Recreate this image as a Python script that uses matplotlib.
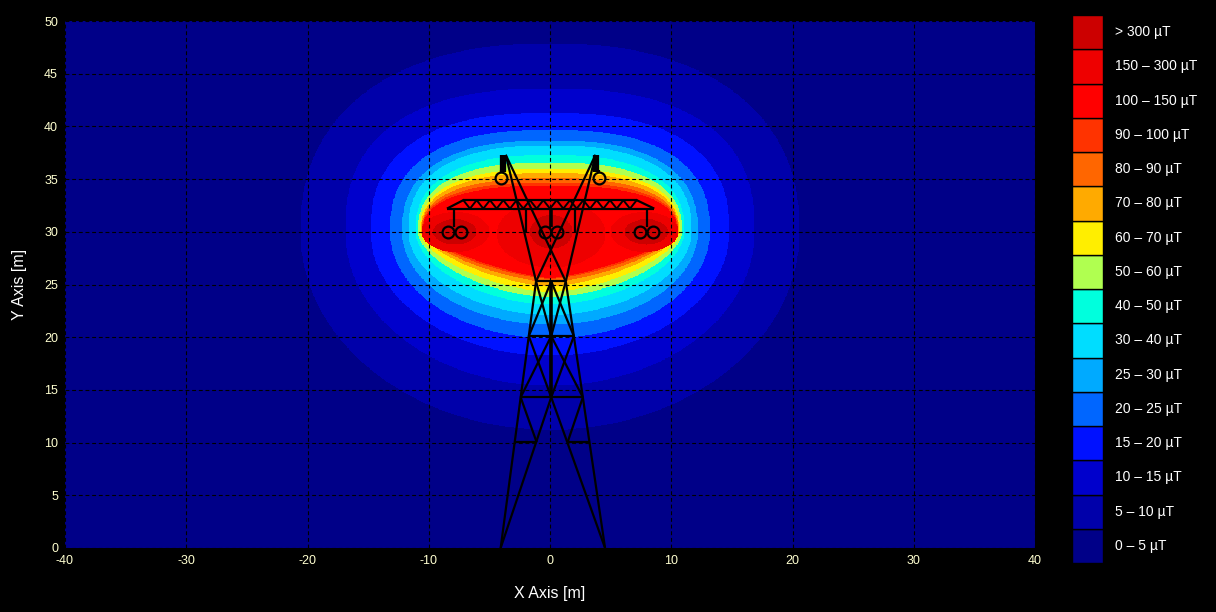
import numpy as np
import matplotlib
matplotlib.use("Agg")
import matplotlib.pyplot as plt
from matplotlib.colors import ListedColormap

plt.rcParams["axes.unicode_minus"] = False

# ---------------- data ----------------
band_lower = [0, 5, 10, 15, 20, 25, 30, 40, 50, 60, 70, 80, 90, 100, 150, 300]
band_labels = ["0 – 5 µT", "5 – 10 µT", "10 – 15 µT", "15 – 20 µT", "20 – 25 µT",
               "25 – 30 µT", "30 – 40 µT", "40 – 50 µT", "50 – 60 µT", "60 – 70 µT",
               "70 – 80 µT", "80 – 90 µT", "90 – 100 µT", "100 – 150 µT",
               "150 – 300 µT", "> 300 µT"]
band_colors = ["#000088", "#0000aa", "#0000cc", "#0011ff", "#0066ff", "#00aaff",
               "#00ddff", "#00ffdd", "#b0ff50", "#ffee00", "#ffaa00", "#ff6600",
               "#ff3300", "#ff0000", "#ee0000", "#cc0000"]

# iso-contours of the field (level in µT):
# half width along y=30, reach above / below y=30 and edge roundness
contour_level = [5, 10, 15, 20, 25, 30, 40, 50, 60, 70, 80, 90, 100]
contour_halfwidth = [20.6, 16.9, 14.8, 13.2, 12.2, 11.7, 11.1, 10.9, 10.75, 10.65, 10.6, 10.55, 10.5]
contour_up = [17.9, 13.6, 11.3, 9.7, 8.7, 8.2, 7.3, 6.6, 6.0, 5.6, 5.1, 4.7, 4.4]
contour_down = [18.8, 14.6, 11.75, 10.1, 8.8, 7.9, 6.9, 6.2, 5.7, 5.2, 4.8, 4.5, 4.4]
contour_round_up = [2.3, 2.5, 2.5, 2.5, 2.5, 2.5, 2.5, 2.5, 2.5, 2.5, 2.5, 2.5, 2.5]
contour_round_down = [2.0, 2.0, 2.0, 2.0, 2.0, 1.9, 1.8, 1.7, 1.6, 1.5, 1.45, 1.4, 1.35]
contour_centre_y = 30.0

# strong-field spots around the conductor bundles
spot_level = [150, 150, 150, 300, 300, 300]
spot_x = [-7.8, 0.1, 7.8, -7.85, 0.1, 7.95]
spot_y = [30.0, 29.8, 30.0, 30.0, 30.0, 30.0]
spot_rx = [2.8, 4.5, 2.8, 1.8, 1.75, 1.8]
spot_ry = [1.9, 3.2, 1.9, 1.2, 1.6, 1.2]

# conductors
phase_x = [-8.4, -7.34, -0.41, 0.58, 7.42, 8.49]
phase_y = [30.0, 30.0, 30.0, 30.0, 30.0, 30.0]
earth_x = [-4.07, 4.04]
earth_y = [35.1, 35.1]

x_ticks = [-40, -30, -20, -10, 0, 10, 20, 30, 40]
y_ticks = [0, 5, 10, 15, 20, 25, 30, 35, 40, 45, 50]

# tower members (x0, y0, x1, y1)
tower_members = [
    (-4.07, 0.0, -1.15, 25.3), (4.54, 0.0, 1.3, 25.3),
    (-1.15, 25.3, 1.3, 25.3), (-1.75, 20.1, 1.97, 20.1), (-2.42, 14.3, 2.71, 14.3),
    (-2.91, 10.03, -1.1, 10.03), (1.45, 10.03, 3.26, 10.03),
    (-4.07, 0.0, 0.1, 14.3), (4.54, 0.0, 0.1, 14.3),
    (-2.42, 14.3, -1.1, 10.03), (2.71, 14.3, 1.45, 10.03),
    (-1.75, 20.1, 0.1, 14.3), (-2.42, 14.3, 0.1, 20.1),
    (1.97, 20.1, 0.1, 14.3), (2.71, 14.3, 0.1, 20.1),
    (-1.15, 25.3, 0.1, 20.1), (-1.75, 20.1, 0.1, 25.3),
    (1.3, 25.3, 0.1, 20.1), (1.97, 20.1, 0.1, 25.3),
    (-3.65, 37.3, -1.15, 25.3), (-3.65, 37.3, 1.3, 25.3),
    (3.75, 37.3, 1.3, 25.3), (3.75, 37.3, -1.15, 25.3),
    (-7.15, 33.0, 7.15, 33.0), (-8.5, 32.2, 8.6, 32.2),
    (-7.15, 33.0, -8.5, 32.2), (7.15, 33.0, 8.6, 32.2),
    (-2.0, 32.2, -2.0, 29.9), (2.06, 32.2, 2.06, 29.9),
    (-7.9, 32.2, -7.9, 30.5), (8.0, 32.2, 8.0, 30.5),
    (-4.07, 35.6, -4.07, 35.9), (4.04, 35.6, 4.04, 35.9),
]
tower_thick = [(0.1, 14.3, 0.1, 25.3), (0.08, 32.2, 0.08, 30.5)]
peak_blocks = [(-3.9, 35.7, -3.9, 37.3), (3.8, 35.7, 3.8, 37.3)]
truss_x = [-7.15, -6.6, -6.05, -5.5, -4.95, -4.4, -3.85, -3.3, -2.75, -2.2, -1.65, -1.1,
           -0.55, 0.0, 0.55, 1.1, 1.65, 2.2, 2.75, 3.3, 3.85, 4.4, 4.95, 5.5, 6.05, 6.6, 7.15]

# ---------------- figure ----------------
W, H = 1216, 612
fig = plt.figure(figsize=(W / 100, H / 100), dpi=100, facecolor="black")
ax = fig.add_axes([65 / W, (H - 548) / H, 970 / W, 527 / H])
ax.set_facecolor(band_colors[0])

xs = np.linspace(-40, 40, 1601)
ys = np.linspace(0, 50, 1001)
X, Y = np.meshgrid(xs, ys)
band = np.zeros(X.shape, dtype=int)
for lev, a, bu, bd, nu, nd in zip(contour_level, contour_halfwidth, contour_up,
                                   contour_down, contour_round_up, contour_round_down):
    above = Y >= contour_centre_y
    b = np.where(above, bu, bd)
    n = np.where(above, nu, nd)
    g = np.abs(X / a) ** n + np.abs((Y - contour_centre_y) / b) ** n
    band[g <= 1.0] = band_lower.index(lev)
for lev, cx, cy, rx, ry in zip(spot_level, spot_x, spot_y, spot_rx, spot_ry):
    g = ((X - cx) / rx) ** 2 + ((Y - cy) / ry) ** 2
    band[g <= 1.0] = band_lower.index(lev)

ax.imshow(band, extent=[-40, 40, 0, 50], origin="lower", aspect="auto",
          cmap=ListedColormap(band_colors), vmin=-0.5, vmax=len(band_colors) - 0.5,
          interpolation="nearest", zorder=0)

ax.set_xlim(-40, 40)
ax.set_ylim(0, 50)
ax.set_xticks(x_ticks)
ax.set_yticks(y_ticks)
ax.grid(True, color="black", linestyle=(0, (3.5, 2.5)), linewidth=0.8)
for s in ax.spines.values():
    s.set_visible(False)
ax.tick_params(length=0, colors="#ffffd0", labelsize=9, pad=5)
for lab in ax.get_xticklabels() + ax.get_yticklabels():
    lab.set_fontfamily("Liberation Sans")
ax.set_xlabel("X Axis [m]", color="white", fontsize=11.5, family="Liberation Sans", labelpad=14)
ax.set_ylabel("Y Axis [m]", color="white", fontsize=11.5, family="Liberation Sans", labelpad=12)

# tower
for x0, y0, x1, y1 in tower_members:
    ax.plot([x0, x1], [y0, y1], color="black", lw=1.6, solid_capstyle="butt", zorder=3)
for x0, y0, x1, y1 in tower_thick:
    ax.plot([x0, x1], [y0, y1], color="black", lw=2.6, solid_capstyle="butt", zorder=3)
for x0, y0, x1, y1 in peak_blocks:
    ax.plot([x0, x1], [y0, y1], color="black", lw=4.5, solid_capstyle="butt", zorder=3)
truss_y = [33.0 if i % 2 == 0 else 32.2 for i in range(len(truss_x))]
ax.plot(truss_x, truss_y, color="black", lw=1.4, zorder=3)
ax.plot(phase_x, phase_y, linestyle="none", marker="o", markersize=8.5,
        markerfacecolor="none", markeredgecolor="black", markeredgewidth=1.6, zorder=4)
ax.plot(earth_x, earth_y, linestyle="none", marker="o", markersize=8.5,
        markerfacecolor="none", markeredgecolor="black", markeredgewidth=1.6, zorder=4)

# legend
lax = fig.add_axes([1072 / W, (H - 563) / H, 31 / W, 548 / H])
lax.set_facecolor("black")
idx = np.arange(len(band_colors))
lax.bar(np.zeros_like(idx), np.ones_like(idx), bottom=idx, width=1.0,
        color=band_colors, edgecolor="black", linewidth=1.0, align="center")
lax.set_xlim(-0.5, 0.5)
lax.set_ylim(0, len(band_colors))
lax.axis("off")
for i, t in enumerate(band_labels):
    lax.text(0.89, i + 0.5, t, color="white", fontsize=10, family="Liberation Sans",
             va="center", ha="left")

fig.savefig("out.png", dpi=100, facecolor="black")
